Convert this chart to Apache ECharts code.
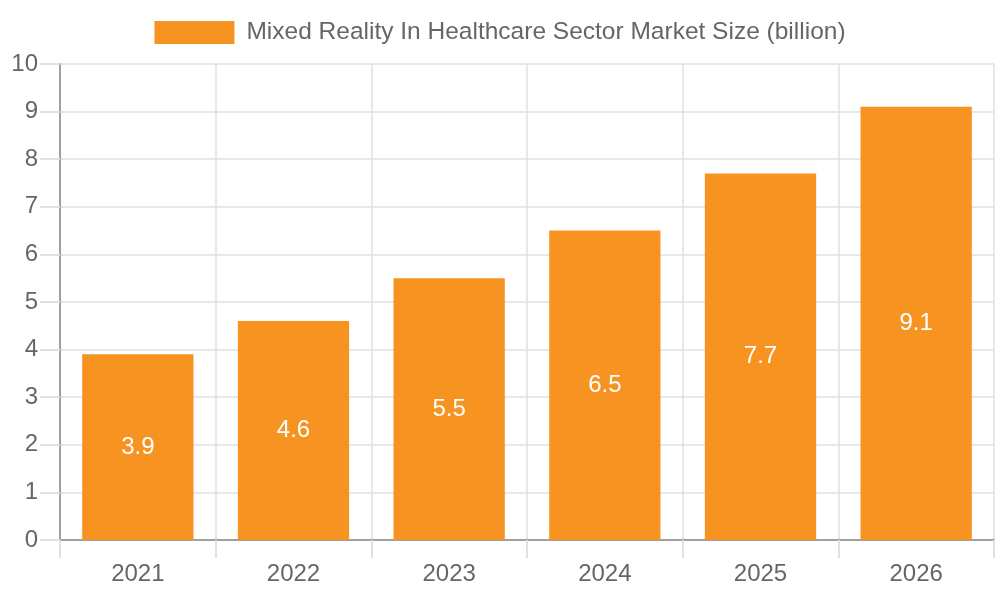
<!DOCTYPE html>
<html><head><meta charset="utf-8">
<script src="https://cdn.jsdelivr.net/npm/echarts@6/dist/echarts.min.js"></script>
<style>html,body{margin:0;padding:0;background:#fff}#c{width:1000px;height:600px}</style>
</head><body><div id="c"></div>
<script>
const categories = ['2021','2022','2023','2024','2025','2026'];
const marketSize = [3.9, 4.6, 5.5, 6.5, 7.7, 9.1];
const seriesName = 'Mixed Reality In Healthcare Sector Market Size (billion)';

const chart = echarts.init(document.getElementById('c'));
chart.setOption({
  animation: false,
  textStyle: { fontFamily: 'Liberation Sans' },
  legend: {
    top: 20, left: 'center', padding: 0,
    itemWidth: 80, itemHeight: 23,
    icon: 'rect',
    textStyle: { color: '#666', fontSize: 24.5, fontFamily: 'Liberation Sans', padding: [0, 0, 0, 7] },
    data: [seriesName]
  },
  grid: { left: 60, right: 6, top: 64, bottom: 60, containLabel: false },
  xAxis: {
    type: 'category', data: categories,
    axisLine: { lineStyle: { color: '#a0a0a0', width: 2 } },
    axisTick: { show: true, length: 18, lineStyle: { color: '#e0e0e0', width: 2 } },
    axisLabel: { color: '#666', fontSize: 24, margin: 22 },
    splitLine: { show: true, lineStyle: { color: '#e0e0e0', width: 1.5 } }
  },
  yAxis: {
    type: 'value', min: 0, max: 10, interval: 1,
    axisLine: { show: true, lineStyle: { color: '#a0a0a0', width: 2 } },
    axisTick: { show: true, length: 20, lineStyle: { color: '#e0e0e0', width: 2 } },
    axisLabel: { color: '#666', fontSize: 24, margin: 22 },
    splitLine: { show: true, lineStyle: { color: '#e0e0e0', width: 1.5 } }
  },
  series: [{
    name: seriesName, type: 'bar', data: marketSize,
    barCategoryGap: '28.5%',
    itemStyle: { color: '#F79421' },
    label: { show: true, position: 'inside', color: '#fff', fontSize: 24 }
  }]
});
</script></body></html>
